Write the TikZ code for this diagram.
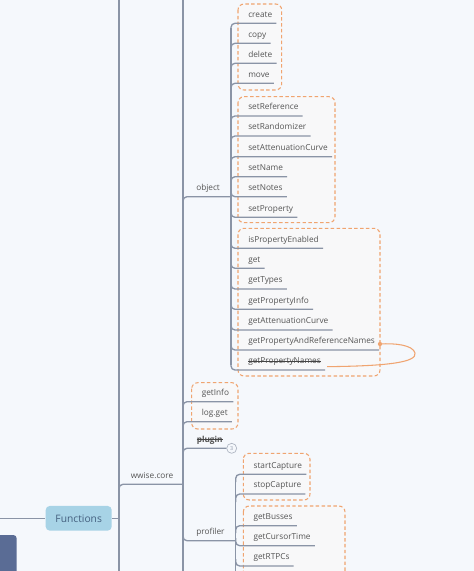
\documentclass[tikz,border=0pt]{standalone}
\usepackage{fontspec}
\setmainfont{Open Sans}
\definecolor{bgc}{HTML}{F5F8FC}
\definecolor{linec}{HTML}{8A94A6}
\definecolor{txtc}{HTML}{555555}
\definecolor{grpc}{HTML}{F0A470}
\definecolor{grpfill}{HTML}{F8F8F9}
\definecolor{funfill}{HTML}{A7D3E6}
\definecolor{funtxt}{HTML}{44607F}
\definecolor{rootc}{HTML}{5A6C95}
\tikzset{
  lnk/.style={draw=linec, line width=1pt, rounded corners=3pt},
  leaf/.style={anchor=south west, inner xsep=0pt, inner ysep=4.5pt, text depth=0pt,
    text=txtc, font=\fontsize{6.2}{7.5}\selectfont},
  grp/.style={draw=grpc, line width=0.8pt, dash pattern=on 2.6pt off 1.8pt,
    rounded corners=4.5pt, fill=grpfill},
  strike/.style={draw=txtc!80!black, line width=0.5pt},
}

\begin{document}
\begin{tikzpicture}[x=0.75pt,y=-0.75pt]
\fill[bgc] (0,0) rectangle (474,571);
\useasboundingbox (0,0) rectangle (474,571);
\clip (0,0) rectangle (474,571);

% dashed groups
\draw[grp] (238,4) rectangle (281.7,90);
\draw[grp] (238,96.7) rectangle (335,222.7);
\draw[grp] (238,228.3) rectangle (380,376);
\draw[grp] (191.7,382.7) rectangle (238,429);
\draw[grp] (243.3,453.3) rectangle (310,500);
\draw[grp] (243.3,506) rectangle (345,590);

% main branches
\draw[lnk] (119,0) -- (119,571);
\draw[lnk] (183,0) -- (183,571);
\draw[lnk] (231,28) -- (231,365);
\draw[lnk] (235.7,480) -- (235.7,571);

% root and Functions
\fill[rootc, rounded corners=2.5pt] (-10,535) rectangle (16.7,590);
\node[fill=funfill, rounded corners=3pt, minimum width=49.5pt, minimum height=18.5pt,
  text=funtxt, font=\fontsize{7.7}{9}\selectfont] (fun) at (78.7,518.3) {Functions};
\draw[lnk] (0,518.3) -- (fun.west);
\draw[lnk] (fun.east) -- (119,518.3);

\node[leaf] (core) at (130.5,484.3) {wwise.core};
\draw[lnk] (119,492) |- (183,484.3);

% object
\node[leaf] (obj) at (196,196.7) {object};
\draw[lnk] (183,204) |- (231,196.7);

\node[leaf] (cre) at (248,23.3) {create};
\draw[lnk] (231,31) |- ([xshift=3pt]cre.south east);
\node[leaf] (cop) at (248,43.3) {copy};
\draw[lnk] (231,51) |- ([xshift=3pt]cop.south east);
\node[leaf] (del) at (248,63.3) {delete};
\draw[lnk] (231,71) |- ([xshift=3pt]del.south east);
\node[leaf] (mov) at (248,83.3) {move};
\draw[lnk] (231,91) |- ([xshift=3pt]mov.south east);

\node[leaf] (sref) at (248,116) {setReference};
\draw[lnk] (231,124) |- ([xshift=3pt]sref.south east);
\node[leaf] (srnd) at (248,136) {setRandomizer};
\draw[lnk] (231,144) |- ([xshift=3pt]srnd.south east);
\node[leaf] (satt) at (248,156.7) {setAttenuationCurve};
\draw[lnk] (231,164) |- ([xshift=3pt]satt.south east);
\node[leaf] (snam) at (248,176.7) {setName};
\draw[lnk] (231,184) |- ([xshift=3pt]snam.south east);
\node[leaf] (snot) at (248,196.7) {setNotes};
\draw[lnk] (231,190) |- ([xshift=3pt]snot.south east);
\node[leaf] (sprp) at (248,217.3) {setProperty};
\draw[lnk] (231,210) |- ([xshift=3pt]sprp.south east);

\node[leaf] (ispe) at (248,248.3) {isPropertyEnabled};
\draw[lnk] (231,241) |- ([xshift=3pt]ispe.south east);
\node[leaf] (get) at (248,268.3) {get};
\draw[lnk] (231,261) |- ([xshift=3pt]get.south east);
\node[leaf] (gtyp) at (248,289) {getTypes};
\draw[lnk] (231,282) |- ([xshift=3pt]gtyp.south east);
\node[leaf] (gpin) at (248,309.3) {getPropertyInfo};
\draw[lnk] (231,302) |- ([xshift=3pt]gpin.south east);
\node[leaf] (gatt) at (248,330) {getAttenuationCurve};
\draw[lnk] (231,323) |- ([xshift=3pt]gatt.south east);
\node[leaf] (gparn) at (248,350) {getPropertyAndReferenceNames};
\draw[lnk] (231,343) |- ([xshift=3pt]gparn.south east);
\node[leaf] (gpn) at (248,370) {getPropertyNames};
\draw[lnk] (231,362) |- ([xshift=3pt]gpn.south east);
\draw[strike] ([yshift=1.8pt]gpn.base west) -- ([yshift=1.8pt]gpn.base east);

% link getPropertyNames -> getPropertyAndReferenceNames
\coordinate (pdot) at (380,344);
\draw[grpc, line width=0.8pt] ([xshift=4.5pt,yshift=2.5pt]gpn.south east)
  .. controls (390,366) and (417,362) .. (415,353)
  .. controls (413,345) and (395,343) .. (pdot);
\fill[grpc] (pdot) circle (1.6pt);

% getInfo, log.get, plugin
\node[leaf] (ginf) at (201.5,401.7) {getInfo};
\draw[lnk] (183,409) |- ([xshift=3pt]ginf.south east);
\node[leaf] (lget) at (201.5,421.7) {log.get};
\draw[lnk] (183,429) |- ([xshift=3pt]lget.south east);

\node[leaf, font=\fontsize{6.2}{7.5}\selectfont\bfseries] (plg) at (196.5,448.3) {plugin};
\draw[strike] ([yshift=1.8pt]plg.base west) -- ([yshift=1.8pt]plg.base east);
\node[circle, draw=linec!70, fill=bgc, line width=0.5pt, minimum size=7.5pt, inner sep=0pt,
  text=linec, font=\fontsize{4}{4.5}\selectfont] (plc) at (231.7,448.3) {3};
\draw[lnk] (183,456) |- (plc.west);

% profiler
\node[leaf] (prf) at (196,540.7) {profiler};
\draw[lnk] (183,533) |- (235.7,540.7);

\node[leaf] (stc) at (253.3,474.3) {startCapture};
\draw[lnk] (235.7,482) |- ([xshift=3pt]stc.south east);
\node[leaf] (spc) at (253.3,494) {stopCapture};
\draw[lnk] (235.7,502) |- ([xshift=3pt]spc.south east);
\node[leaf] (gbus) at (253.3,525.7) {getBusses};
\draw[lnk] (235.7,533) |- ([xshift=3pt]gbus.south east);
\node[leaf] (gcur) at (253.3,545.7) {getCursorTime};
\draw[lnk] (235.7,538) |- ([xshift=3pt]gcur.south east);
\node[leaf] (grtp) at (253.3,566) {getRTPCs};
\draw[lnk] (235.7,559) |- ([xshift=3pt]grtp.south east);
\end{tikzpicture}
\end{document}
